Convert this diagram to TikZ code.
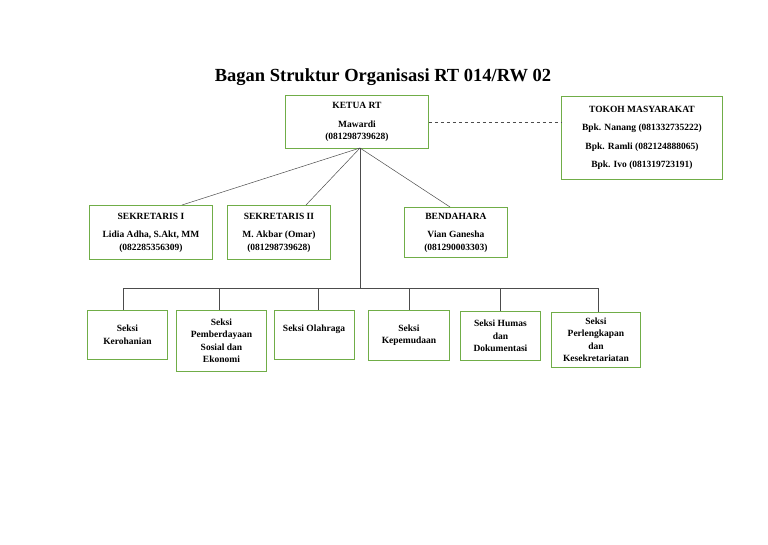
\documentclass[tikz,border=0pt]{standalone}
\usepackage{fontspec}
\setmainfont{Liberation Serif}
\definecolor{bgreen}{HTML}{70AD47}
\begin{document}
\begin{tikzpicture}[x=1pt,y=-1pt,
 box/.style={draw=bgreen,line width=0.9pt,anchor=north west,inner sep=0pt,align=center,font=\bfseries\fontsize{9.5}{12.5}\selectfont},
 ln/.style={draw=black!70,line width=0.5pt}]
\useasboundingbox (0,0) rectangle (768,544);
\node[font=\bfseries\fontsize{18.5}{20}\selectfont] (title) at (383,77) {Bagan Struktur Organisasi RT 014/RW 02};
\newcommand{\bx}[6]{\node[box,minimum width=#4-#2,minimum height=#5-#3] (#1) at (#2,#3) {#6};}
\bx{ketua}{285}{95}{428}{148}{KETUA RT\\[6pt]Mawardi\\(081298739628)}
\bx{tokoh}{561}{96}{722}{179}{TOKOH MASYARAKAT\\[6pt]Bpk. Nanang (081332735222)\\[6pt]Bpk. Ramli (082124888065)\\[6pt]Bpk. Ivo (081319723191)}
\bx{s1}{89}{205}{212}{259}{SEKRETARIS I\\[6pt]Lidia Adha, S.Akt, MM\\(082285356309)}
\bx{s2}{227}{205}{330}{259}{SEKRETARIS II\\[6pt]M. Akbar (Omar)\\(081298739628)}
\bx{bend}{404}{207}{507}{257}{BENDAHARA\\[6pt]Vian Ganesha\\(081290003303)}
\bx{a}{87}{310}{167}{359}{Seksi\\Kerohanian}
\bx{b}{176}{310}{266}{371}{Seksi\\Pemberdayaan\\Sosial dan\\Ekonomi}
\node[box,minimum width=80,minimum height=49,anchor=north west] (c) at (274,310) {};
\node[font=\bfseries\fontsize{9.5}{12.5}\selectfont] (ct) at (314,329) {Seksi Olahraga};
\bx{d}{368}{310}{449}{360}{Seksi\\Kepemudaan}
\bx{e}{460}{311}{540}{360}{Seksi Humas\\dan\\Dokumentasi}
\bx{f}{551}{312}{640}{367}{Seksi\\Perlengkapan\\dan\\Kesekretariatan}
\coordinate (k) at (360,148);
\coordinate (bus) at (360,288);
\draw[ln] (k) -- (182,205);
\draw[ln] (k) -- (306,205);
\draw[ln] (k) -- (450,207);
\draw[ln] (k) -- (bus);
\draw[ln,dashed] (ketua.east) -- (ketua.east -| tokoh.west);
\draw[ln] (123,288) -- (598,288);
\foreach \x/\n in {123/a,219/b,318/c,409/d,500/e,598/f}
  \draw[ln] (\x,288) -- (\x,0 |- \n.north);
\end{tikzpicture}
\end{document}
